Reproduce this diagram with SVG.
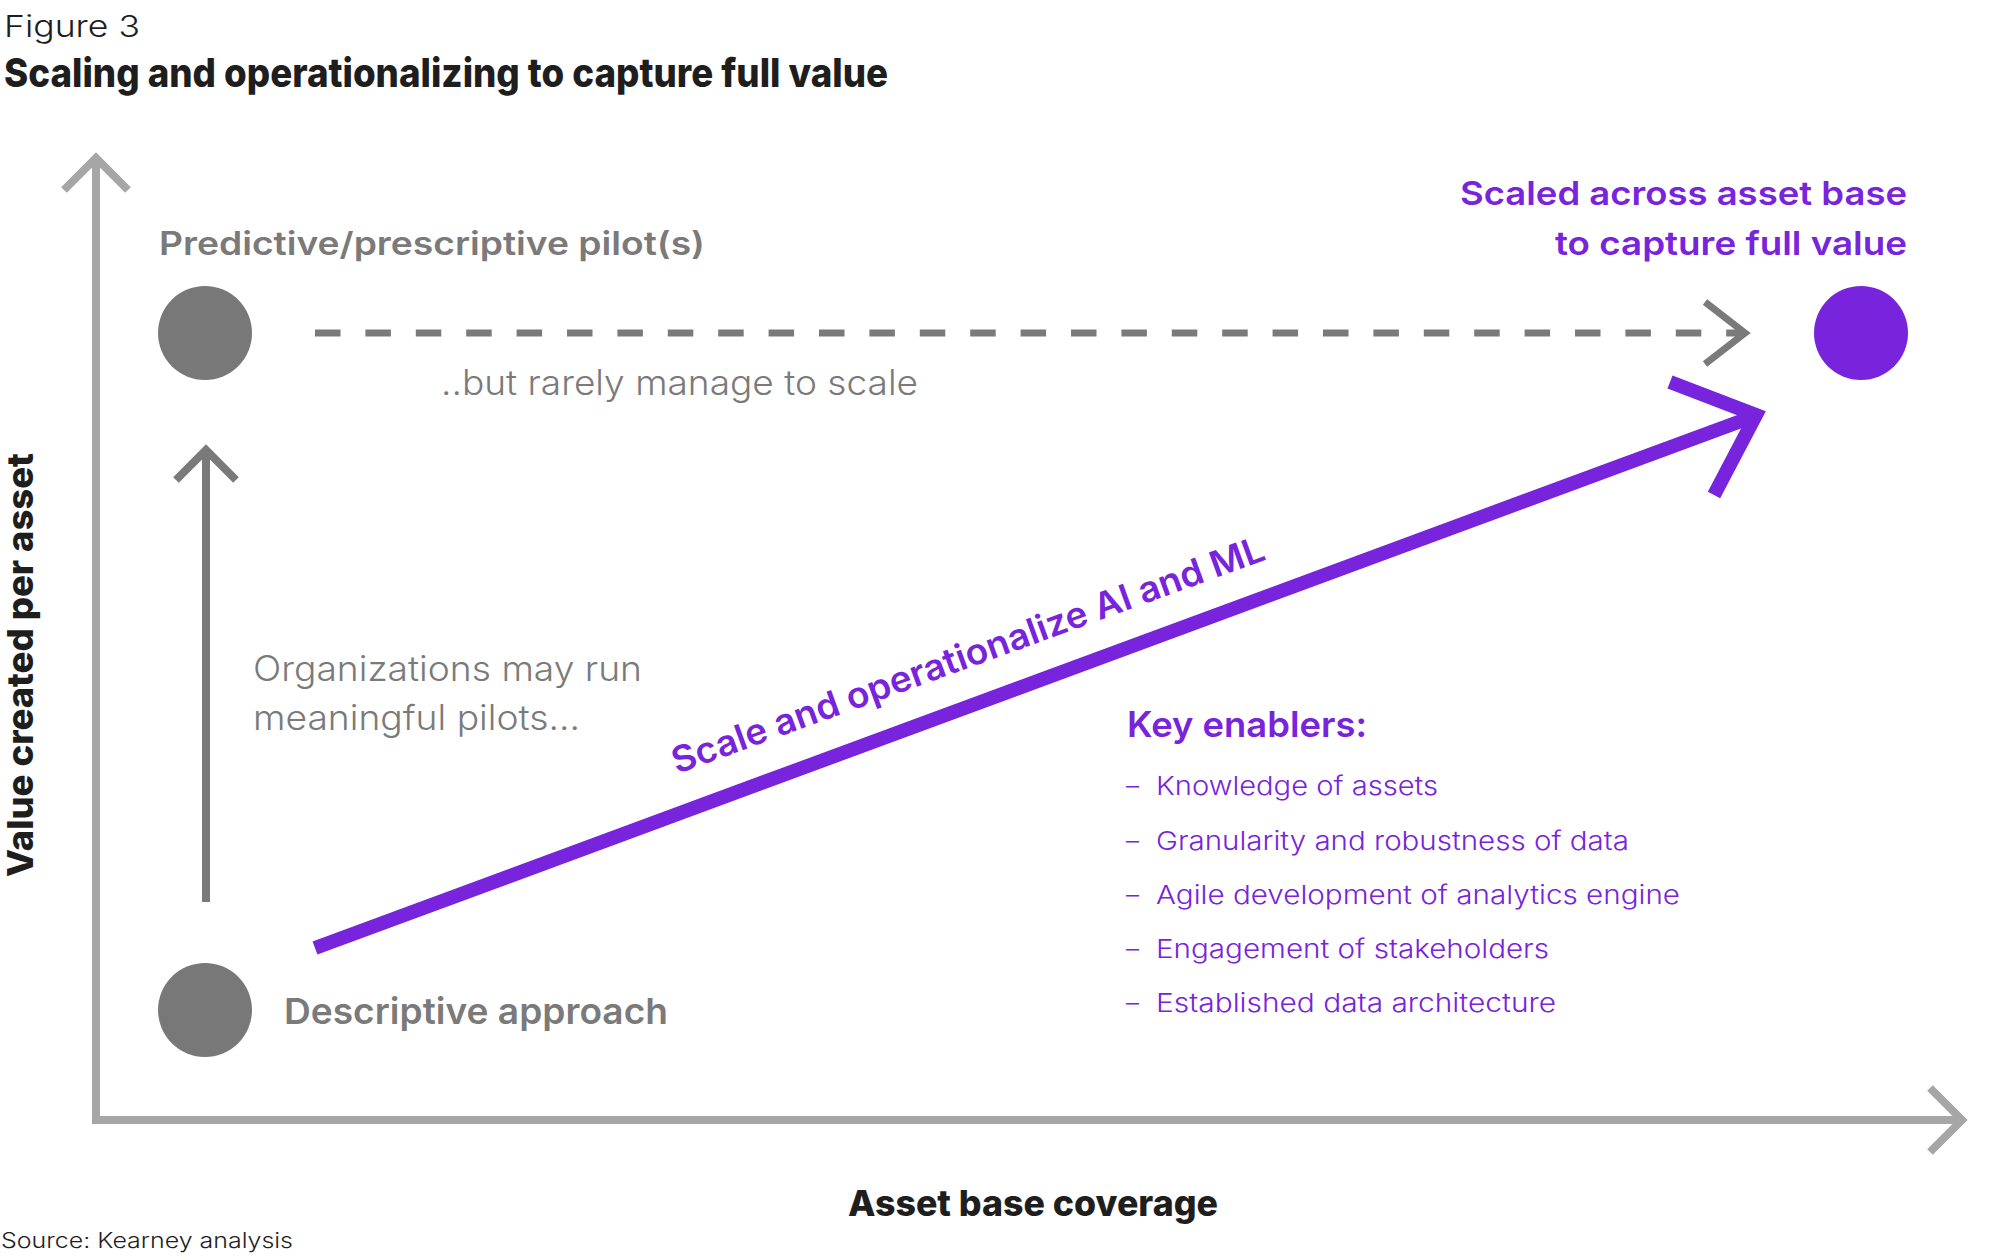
<svg xmlns="http://www.w3.org/2000/svg" width="2000" height="1257" viewBox="0 0 2000 1257">
<style>
text { font-family: Inter, "Liberation Sans", Arial, sans-serif; }
.dark { fill: #1e1e1e; }
.grey { fill: #7a7a7a; }
.purple { fill: #7823dc; }
.b7 { font-weight: 800; }
.b6 { font-weight: 600; }
.lt { font-weight: 300; }
.axis { fill: none; stroke: #a6a6a6; stroke-width: 8; stroke-linejoin: miter; }
.garrow { fill: none; stroke: #7a7a7a; stroke-width: 8; }
.parrow { fill: none; stroke: #7823dc; stroke-width: 14; stroke-linejoin: miter; }
.li { font-size: 26px; }
</style>
<rect width="2000" height="1257" fill="#ffffff"/>

<g id="titles">
<text class="dark lt" x="4" y="37" font-size="30" textLength="136" lengthAdjust="spacingAndGlyphs">Figure 3</text>
<text class="dark b7" x="4" y="87" font-size="40" textLength="884" lengthAdjust="spacingAndGlyphs">Scaling and operationalizing to capture full value</text>
<text class="dark lt" x="1" y="1248" font-size="21" textLength="292" lengthAdjust="spacingAndGlyphs">Source: Kearney analysis</text>
</g>

<g id="axes">
<polyline class="axis" points="96,158 96,1120 1962,1120"/>
<polyline class="axis" points="64,190 96,158 128,190"/>
<polyline class="axis" points="1930,1088 1962,1120 1930,1152"/>
<text class="dark b7" transform="translate(33,665) rotate(-90)" text-anchor="middle" font-size="36" textLength="424" lengthAdjust="spacingAndGlyphs">Value created per asset</text>
<text class="dark b7" x="848" y="1216" font-size="36" textLength="370" lengthAdjust="spacingAndGlyphs">Asset base coverage</text>
</g>

<g id="node-pilot">
<circle cx="205" cy="333" r="47" fill="#787878"/>
<text class="grey b6" x="159" y="255" font-size="32" textLength="546" lengthAdjust="spacingAndGlyphs">Predictive/prescriptive pilot(s)</text>
</g>

<g id="node-descriptive">
<circle cx="205" cy="1010" r="47" fill="#787878"/>
<text class="grey b6" x="284" y="1024" font-size="36" textLength="384" lengthAdjust="spacingAndGlyphs">Descriptive approach</text>
</g>

<g id="node-scaled">
<circle cx="1861" cy="333" r="47" fill="#7823dc"/>
<text class="purple b6" x="1460" y="205" font-size="33" textLength="447" lengthAdjust="spacingAndGlyphs">Scaled across asset base</text>
<text class="purple b6" x="1555" y="255" font-size="33" textLength="352" lengthAdjust="spacingAndGlyphs">to capture full value</text>
</g>

<g id="connectors">
<line class="garrow" x1="206" y1="902" x2="206" y2="450"/>
<polyline class="garrow" points="176,480 206,450 236,480"/>
<line x1="315" y1="333" x2="1740" y2="333" stroke="#7a7a7a" stroke-width="7" stroke-dasharray="25.5 24.9"/>
<polyline points="1705,302 1745,333 1705,364" fill="none" stroke="#7a7a7a" stroke-width="7"/>
<line class="parrow" x1="315" y1="948" x2="1752" y2="417"/>
<polyline class="parrow" points="1670,382 1756,415 1714,495"/>
</g>

<g id="labels">
<text class="grey lt" x="441" y="395" font-size="35" textLength="477" lengthAdjust="spacingAndGlyphs">..but rarely manage to scale</text>
<text class="grey lt" x="253" y="681" font-size="35" textLength="389" lengthAdjust="spacingAndGlyphs">Organizations may run</text>
<text class="grey lt" x="253" y="730" font-size="35" textLength="327" lengthAdjust="spacingAndGlyphs">meaningful pilots...</text>
<text class="purple b6" transform="translate(677,774) rotate(-20)" font-size="36" textLength="628" lengthAdjust="spacingAndGlyphs">Scale and operationalize AI and ML</text>
</g>

<g id="enablers">
<text class="purple b6" x="1127" y="737" font-size="35" textLength="240" lengthAdjust="spacingAndGlyphs">Key enablers:</text>
<text class="purple lt li" x="1126" y="795">–</text>
<text class="purple lt li" x="1156" y="795" textLength="282" lengthAdjust="spacingAndGlyphs">Knowledge of assets</text>
<text class="purple lt li" x="1126" y="850">–</text>
<text class="purple lt li" x="1156" y="850" textLength="473" lengthAdjust="spacingAndGlyphs">Granularity and robustness of data</text>
<text class="purple lt li" x="1126" y="904">–</text>
<text class="purple lt li" x="1156" y="904" textLength="524" lengthAdjust="spacingAndGlyphs">Agile development of analytics engine</text>
<text class="purple lt li" x="1126" y="958">–</text>
<text class="purple lt li" x="1156" y="958" textLength="393" lengthAdjust="spacingAndGlyphs">Engagement of stakeholders</text>
<text class="purple lt li" x="1126" y="1012">–</text>
<text class="purple lt li" x="1156" y="1012" textLength="400" lengthAdjust="spacingAndGlyphs">Established data architecture</text>
</g>
</svg>
